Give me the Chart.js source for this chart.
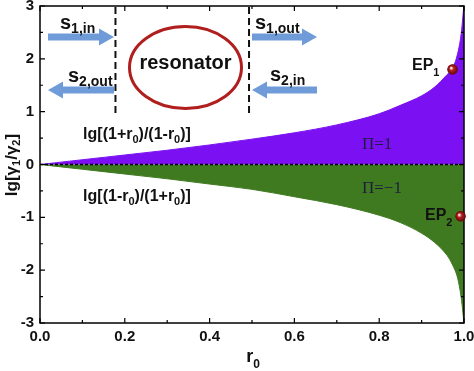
<!DOCTYPE html>
<html><head><meta charset="utf-8">
<script src="https://cdn.jsdelivr.net/npm/chart.js@4"></script>
<style>html,body{margin:0;padding:0;background:#fff}#wrap{width:474px;height:371px}</style>
</head><body><div id="wrap"><canvas id="c" width="474" height="371"></canvas></div>
<script>
// ---- data ----
const r0Values    = [0, 0.1, 0.2, 0.3, 0.4, 0.5, 0.6, 0.7, 0.8, 0.85, 0.9, 0.93, 0.96, 0.973, 0.985, 0.993, 0.998, 1.0];
const upperValues = [0, 0.09, 0.18, 0.27, 0.37, 0.48, 0.60, 0.75, 0.96, 1.12, 1.30, 1.46, 1.70, 1.82, 2.10, 2.45, 2.85, 3.05];
const lowerValues = [0, -0.09, -0.18, -0.27, -0.37, -0.47, -0.61, -0.76, -0.96, -1.10, -1.30, -1.47, -1.72, -1.90, -2.15, -2.50, -2.85, -3.05];
const epR = [0.973, 0.992];
const epG = [1.80, -0.98];
const xTickValues = [0, 0.2, 0.4, 0.6, 0.8, 1.0];
const yTickValues = [-3, -2, -1, 0, 1, 2, 3];
const zeroLineR = [0, 1];
const zeroLineG = [0, 0];

const PURPLE = '#7b10f2';
const GREEN = '#3f7a20';
const SANS = '"Liberation Sans", Arial, sans-serif';
const SERIF = '"Liberation Serif", "Times New Roman", serif';

const pts = (xs, ys) => xs.map((x, i) => ({x, y: ys[i]}));

function drawParts(ctx, parts, x, y, align) {
  let w = 0;
  parts.forEach(p => { ctx.font = 'bold ' + p[1] + 'px ' + SANS; w += ctx.measureText(p[0]).width; });
  let cx = align === 'center' ? x - w / 2 : (align === 'right' ? x - w : x);
  ctx.textAlign = 'left';
  ctx.textBaseline = 'alphabetic';
  parts.forEach(p => {
    ctx.font = 'bold ' + p[1] + 'px ' + SANS;
    ctx.fillText(p[0], cx, y + (p[2] || 0));
    cx += ctx.measureText(p[0]).width;
  });
}

function arrow(ctx, x1, x2, y) {
  const dir = x2 > x1 ? 1 : -1;
  const headL = 15, headH = 8.5, bodyH = 3.5;
  const hx = x2 - dir * headL;
  ctx.beginPath();
  ctx.moveTo(x1, y - bodyH);
  ctx.lineTo(hx, y - bodyH);
  ctx.lineTo(hx, y - headH);
  ctx.lineTo(x2, y);
  ctx.lineTo(hx, y + headH);
  ctx.lineTo(hx, y + bodyH);
  ctx.lineTo(x1, y + bodyH);
  ctx.closePath();
  ctx.fillStyle = '#6f9cd8';
  ctx.fill();
}

const framePlugin = {
  id: 'frame',
  afterDatasetsDraw(chart) {
    const {ctx, chartArea: a, scales: {x, y}} = chart;
    ctx.save();
    ctx.strokeStyle = '#000';
    ctx.lineWidth = 1.5;
    ctx.strokeRect(a.left, a.top, a.right - a.left, a.bottom - a.top);
    ctx.lineWidth = 1.2;
    ctx.beginPath();
    for (let i = 0; i <= 10; i++) {
      const px = x.getPixelForValue(i / 10);
      const L = i % 2 === 0 ? 5 : 3;
      ctx.moveTo(px, a.bottom); ctx.lineTo(px, a.bottom - L);
      ctx.moveTo(px, a.top); ctx.lineTo(px, a.top + L);
    }
    for (let i = -6; i <= 6; i++) {
      const py = y.getPixelForValue(i / 2);
      const L = i % 2 === 0 ? 5 : 3;
      ctx.moveTo(a.left, py); ctx.lineTo(a.left + L, py);
      ctx.moveTo(a.right, py); ctx.lineTo(a.right - L, py);
    }
    ctx.stroke();
    ctx.restore();
  },
  afterDraw(chart) {
    const {ctx, chartArea: a, scales: {x, y}} = chart;
    ctx.save();
    ctx.strokeStyle = '#111';
    ctx.lineWidth = 2;
    ctx.setLineDash([7, 4]);
    [0.178, 0.493].forEach(v => {
      const px = x.getPixelForValue(v);
      ctx.beginPath();
      ctx.moveTo(px, a.top + 1);
      ctx.lineTo(px, y.getPixelForValue(0.94));
      ctx.stroke();
    });
    ctx.setLineDash([]);
    ctx.strokeStyle = '#b01e1e';
    ctx.lineWidth = 3;
    ctx.beginPath();
    ctx.ellipse(185.5, 67.5, 56, 41, 0, 0, Math.PI * 2);
    ctx.stroke();
    ctx.fillStyle = '#111';
    ctx.font = 'bold 20px ' + SANS;
    ctx.textAlign = 'center';
    ctx.textBaseline = 'middle';
    ctx.fillText('resonator', 185.5, 63);
    arrow(ctx, 48, 114, 37);
    arrow(ctx, 114, 48, 90);
    arrow(ctx, 252, 317, 37);
    arrow(ctx, 317, 252, 90);
    ctx.fillStyle = '#111';
    drawParts(ctx, [['s', 20], ['1,in', 14, 4]], 60, 29, 'left');
    drawParts(ctx, [['s', 20], ['2,out', 14, 4]], 68, 82, 'left');
    drawParts(ctx, [['s', 20], ['1,out', 14, 4]], 255, 29, 'left');
    drawParts(ctx, [['s', 20], ['2,in', 14, 4]], 270, 81, 'left');
    drawParts(ctx, [['lg[(1+r', 16], ['0', 11, 4], [')/(1-r', 16], ['0', 11, 4], [')]', 16]], 137, 139, 'center');
    drawParts(ctx, [['lg[(1-r', 16], ['0', 11, 4], [')/(1+r', 16], ['0', 11, 4], [')]', 16]], 137, 201, 'center');
    drawParts(ctx, [['EP', 16], ['1', 11, 6]], 412, 70, 'left');
    drawParts(ctx, [['EP', 16], ['2', 11, 6]], 425, 220, 'left');
    ctx.font = '17px ' + SERIF;
    ctx.fillStyle = '#1e1e3c';
    ctx.textAlign = 'left';
    ctx.textBaseline = 'middle';
    ctx.fillText('\u03A0=1', 362, 145);
    ctx.fillText('\u03A0=\u22121', 362, 189);
    ctx.fillStyle = '#111';
    drawParts(ctx, [['r', 18], ['0', 12, 6]], 253, 362, 'center');
    ctx.translate(17, 165);
    ctx.rotate(-Math.PI / 2);
    drawParts(ctx, [['lg[\u03B3', 17], ['1', 11, 3], ['/\u03B3', 17], ['2', 11, 3], [']', 17]], 0, 0, 'center');
    ctx.restore();
    const meta = chart.getDatasetMeta(0);
    ctx.save();
    meta.data.forEach(p => {
      const g = ctx.createRadialGradient(p.x - 1.5, p.y - 1.5, 0.5, p.x, p.y, 5.5);
      g.addColorStop(0, '#ffe8e8');
      g.addColorStop(0.35, '#b32020');
      g.addColorStop(1, '#5a0606');
      ctx.fillStyle = g;
      ctx.beginPath();
      ctx.arc(p.x, p.y, 5.2, 0, Math.PI * 2);
      ctx.fill();
    });
    ctx.restore();
  }
};

const zeroPad = s => { s.paddingLeft = 0; s.paddingRight = 0; s.paddingTop = 0; s.paddingBottom = 0; };

new Chart(document.getElementById('c'), {
  type: 'line',
  data: {
    datasets: [
      { label: 'EP', data: pts(epR, epG), showLine: false, pointRadius: 5, pointBackgroundColor: '#8a1010', pointBorderWidth: 0, order: 0 },
      { label: 'zero', data: pts(zeroLineR, zeroLineG), borderColor: '#000', borderDash: [3, 2], borderWidth: 1.5, pointRadius: 0, fill: false, order: 1 },
      { label: 'upper', data: pts(r0Values, upperValues), borderColor: PURPLE, backgroundColor: PURPLE, borderWidth: 1, pointRadius: 0, fill: 'origin', cubicInterpolationMode: 'monotone', order: 2 },
      { label: 'lower', data: pts(r0Values, lowerValues), borderColor: GREEN, backgroundColor: GREEN, borderWidth: 1, pointRadius: 0, fill: 'origin', cubicInterpolationMode: 'monotone', order: 3 }
    ]
  },
  options: {
    responsive: false,
    animation: false,
    devicePixelRatio: 1,
    layout: { padding: { top: 6, right: 10, left: 0, bottom: 0 } },
    plugins: { legend: { display: false }, tooltip: { enabled: false } },
    scales: {
      x: {
        type: 'linear', min: 0, max: 1,
        afterBuildTicks: s => { s.ticks = xTickValues.map(v => ({value: v})); },
        afterFit: s => { s.height = 48; zeroPad(s); },
        ticks: { callback: v => v.toFixed(1), font: { family: SANS, size: 15, weight: 'bold' }, color: '#111', padding: 5, maxRotation: 0 },
        grid: { display: false, drawTicks: false, tickLength: 0 },
        border: { display: false }
      },
      y: {
        type: 'linear', min: -3, max: 3,
        afterBuildTicks: s => { s.ticks = yTickValues.map(v => ({value: v})); },
        afterFit: s => { s.width = 40; zeroPad(s); },
        ticks: { callback: v => String(v), font: { family: SANS, size: 15, weight: 'bold' }, color: '#111', padding: 6 },
        grid: { display: false, drawTicks: false, tickLength: 0 },
        border: { display: false }
      }
    }
  },
  plugins: [framePlugin]
});
</script>
</body></html>
